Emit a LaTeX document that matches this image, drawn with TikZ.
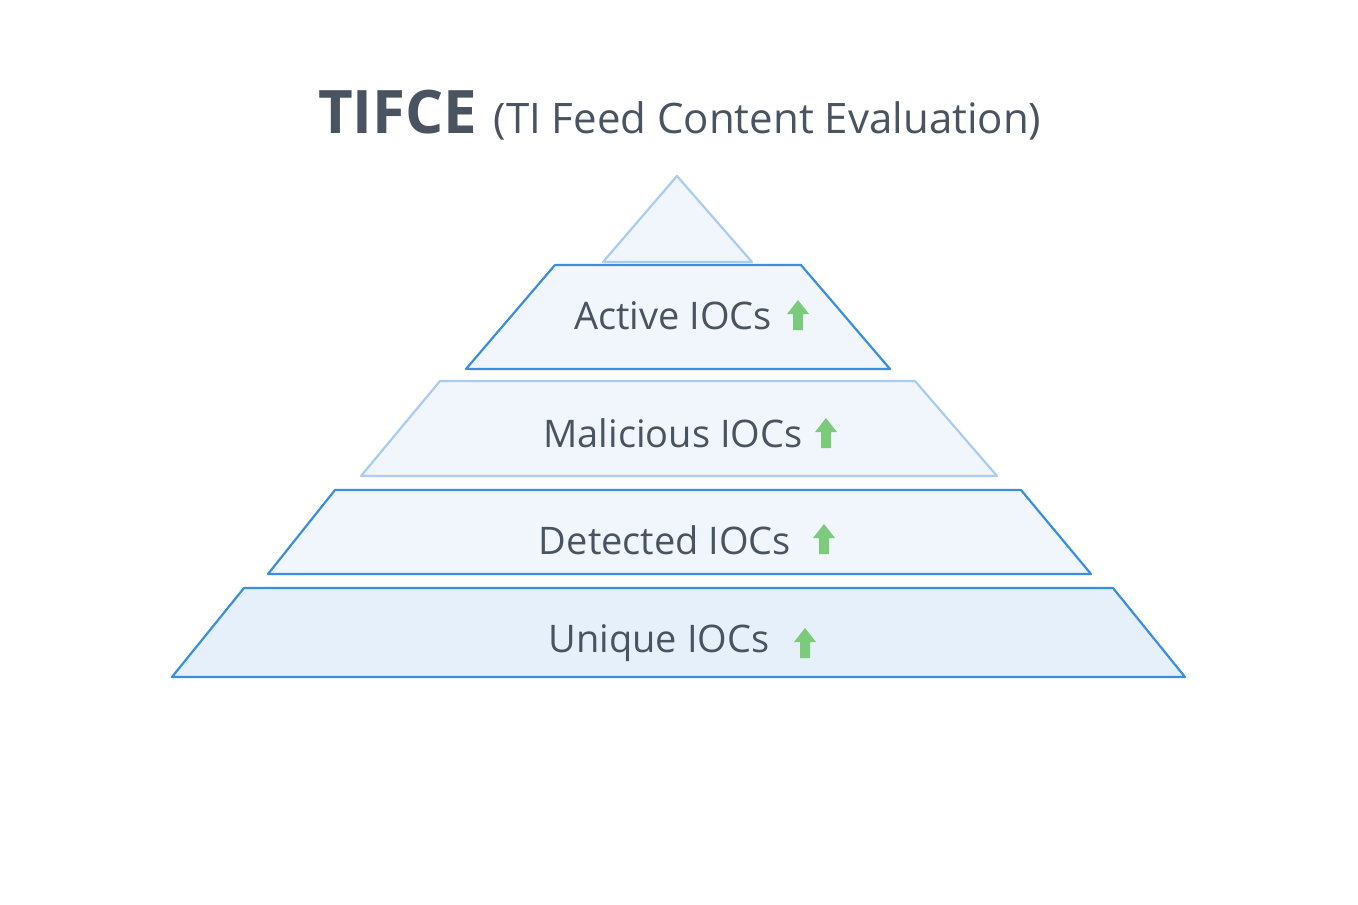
\documentclass[tikz,border=0pt]{standalone}
\usepackage{fontspec}
\setmainfont{Open Sans}
\definecolor{txt}{HTML}{4A5360}
\definecolor{dk}{HTML}{3A8EE0}
\definecolor{lt}{HTML}{A8CDF0}
\definecolor{fillA}{HTML}{F1F6FC}
\definecolor{fillB}{HTML}{E6F0FA}
\definecolor{grn}{HTML}{7CCB7C}
\tikzset{
 darkedge/.style={draw=dk,line width=2.2pt,line join=round},
 lightedge/.style={draw=lt,line width=2.2pt,line join=round},
 lbl/.style={text=txt,font=\fontsize{38}{44}\selectfont,inner sep=0pt},
 uparrow/.pic={\fill[grn] (-11,0)--(0,-14)--(11,0)--(5,0)--(5,16)--(-5,16)--(-5,0)--cycle;}
}
\begin{document}
\begin{tikzpicture}[x=1pt,y=-1pt]
\useasboundingbox[fill=white] (0,0) rectangle (1358,905);
\node[anchor=base west,text=txt,inner sep=0pt] (title) at (318,133)
 {{\fontsize{60}{66}\selectfont\bfseries TIFCE}\hspace{16pt}{\fontsize{42}{48}\selectfont(TI Feed Content Evaluation)}};
\path[lightedge,fill=fillA] (677,176)--(752,262)--(603,262)--cycle;
\path[darkedge,fill=fillA] (555,265)--(801,265)--(890,369)--(466,369)--cycle;
\path[lightedge,fill=fillA] (440,381)--(915,381)--(997,476)--(361,476)--cycle;
\path[darkedge,fill=fillA] (335,490)--(1021,490)--(1091,574)--(268,574)--cycle;
\path[darkedge,fill=fillB] (244,588)--(1113,588)--(1185,677)--(172,677)--cycle;
\node[lbl] (a) at (673,316) {Active IOCs};
\node[lbl] (m) at (673,433) {Malicious IOCs};
\node[lbl] (d) at (665,540) {Detected IOCs};
\node[lbl] (u) at (659,643) {Unique IOCs};
\pic at (798,314) {uparrow};
\pic at (826,432) {uparrow};
\pic at (824,538) {uparrow};
\pic at (805,642) {uparrow};
\end{tikzpicture}
\end{document}
